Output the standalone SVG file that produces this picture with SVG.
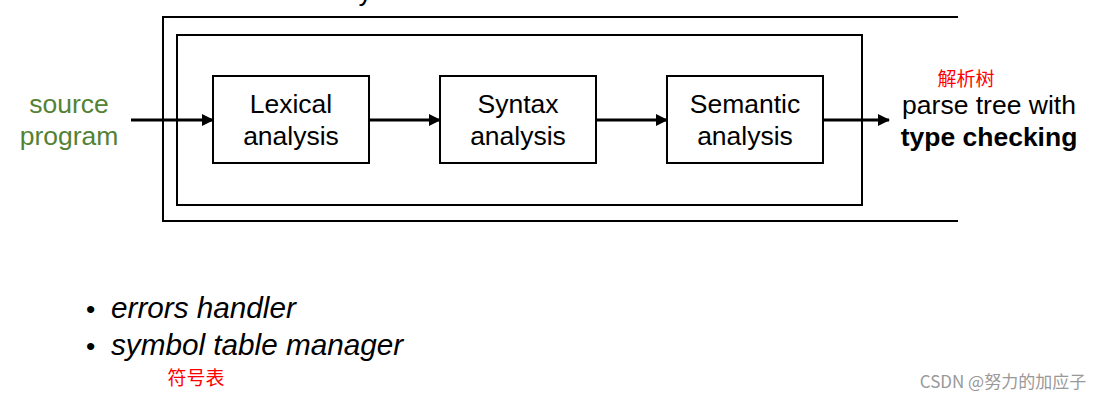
<svg xmlns="http://www.w3.org/2000/svg" width="1114" height="400" viewBox="0 0 1114 400">
<style>
text{font-family:"Liberation Sans",Arial,sans-serif;font-size:26.5px;fill:#000}
.box{fill:#fff;stroke:#000;stroke-width:2}
.ln{stroke:#000;stroke-width:2;fill:none}
.ar{stroke:#000;stroke-width:3;fill:none;marker-end:url(#ah)}
.g{fill:#548235}
.r{fill:#ff0000;font-family:"Noto Sans CJK SC",sans-serif;font-size:19px}
.it{font-style:italic;font-size:29.7px}
</style>
<defs><marker id="ah" markerWidth="12" markerHeight="12" refX="11" refY="6" orient="auto" markerUnits="userSpaceOnUse"><path d="M0,0L12,6L0,12z" fill="#000"/></marker></defs>
<rect width="1114" height="400" fill="#fff"/>
<text x="365" y="1" text-anchor="middle" font-size="26">y</text>
<g id="frame"><path class="ln" d="M958,17H163V221H958"/><rect class="ln" x="177" y="35" width="685" height="170"/></g>
<g id="lex"><rect class="box" x="213" y="76" width="156" height="87"/><text x="291" y="113" text-anchor="middle">Lexical</text><text x="291" y="145" text-anchor="middle">analysis</text></g>
<g id="syn"><rect class="box" x="440" y="76" width="156" height="87"/><text x="518" y="113" text-anchor="middle">Syntax</text><text x="518" y="145" text-anchor="middle">analysis</text></g>
<g id="sem"><rect class="box" x="667" y="76" width="156" height="87"/><text x="745" y="113" text-anchor="middle">Semantic</text><text x="745" y="145" text-anchor="middle">analysis</text></g>
<g id="src"><text class="g" x="69" y="113" text-anchor="middle">source</text><text class="g" x="69" y="145" text-anchor="middle">program</text></g>
<g id="out"><text class="r" x="966" y="86" text-anchor="middle">解析树</text><text x="989" y="114" text-anchor="middle">parse tree with</text><text x="989" y="146" text-anchor="middle" font-weight="bold">type checking</text></g>
<g id="connectors"><path class="ar" d="M131,120H213"/><path class="ar" d="M369,120H440"/><path class="ar" d="M596,120H667"/><path class="ar" d="M823,120H889"/></g>
<g id="notes"><text x="86" y="318">•</text><text class="it" x="111" y="318">errors handler</text><text x="86" y="355">•</text><text class="it" x="111" y="355">symbol table manager</text><text class="r" x="196" y="385" text-anchor="middle">符号表</text></g>
<text x="1003" y="388" text-anchor="middle" style="fill:#999;font-size:17px;font-family:'Noto Sans CJK SC',sans-serif">CSDN @努力的加应子</text>
</svg>
